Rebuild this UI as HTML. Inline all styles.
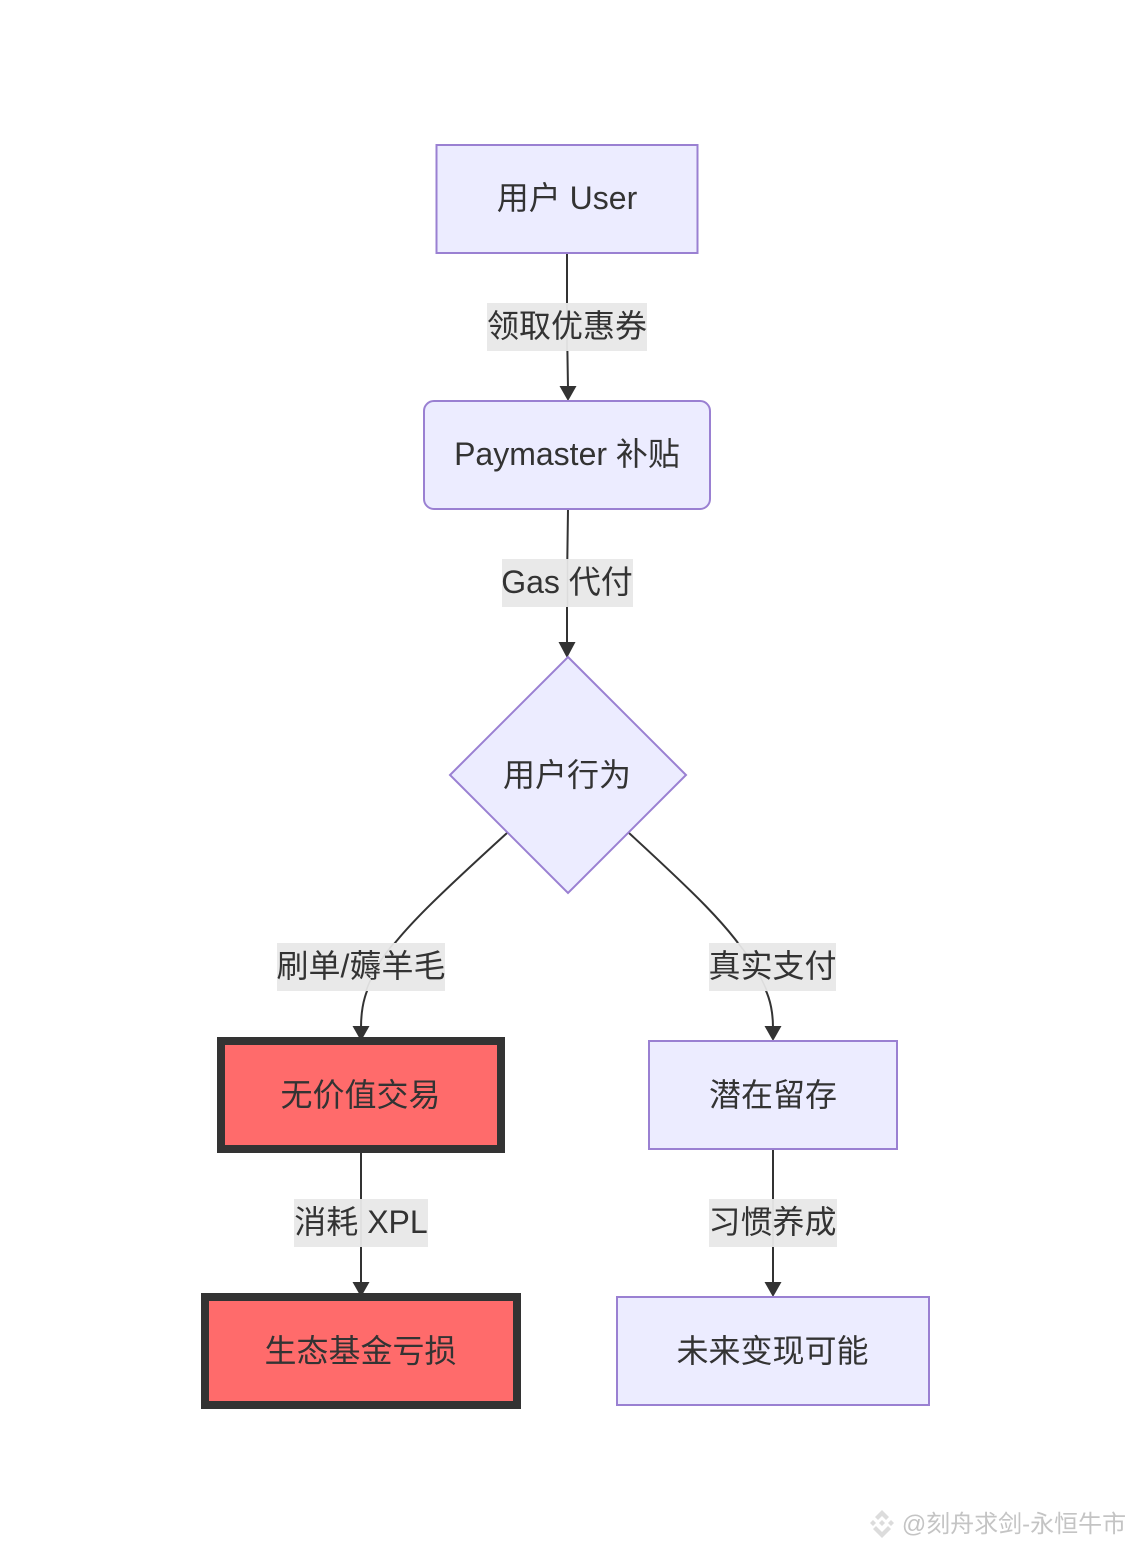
<!DOCTYPE html>
<html><head><meta charset="utf-8"><style>
html,body{margin:0;padding:0;background:#fff}
svg{display:block;filter:blur(0.35px)}
text{font-family:"Liberation Sans","Noto Sans CJK SC",sans-serif;fill:#333;font-size:32px;text-anchor:middle}
.n{fill:#ECECFF;stroke:#9a80d2;stroke-width:2}
.r{fill:#FF6B6B;stroke:#333;stroke-width:8}
.e{fill:none;stroke:#333;stroke-width:2}
.l{fill:#e9e9e9}
.f{fill:none;stroke:#dcdcdc;stroke-width:1.500}
.a{fill:#333}
</style></head><body>
<svg width="1134" height="1550" viewBox="0 0 1134 1550" xmlns="http://www.w3.org/2000/svg">
<rect width="1134" height="1550" fill="#fff"/>
<path class="e" d="M567 253V326L568 388"/>
<path class="e" d="M568 509L567 582V645"/>
<path class="e" d="M507 833C450 885 395 935 380 965C365 990 361 1005 361 1028"/>
<path class="e" d="M629 833C680 880 735 930 752 965C768 990 773 1005 773 1028"/>
<path class="e" d="M361 1150V1284"/>
<path class="e" d="M773 1149V1284"/>
<path class="a" d="M559.500 386H576.500L568 401Z"/>
<path class="a" d="M558.500 642H575.500L567 658Z"/>
<path class="a" d="M352.500 1026H369.500L361 1041Z"/>
<path class="a" d="M764.500 1026H781.500L773 1041Z"/>
<path class="a" d="M352.500 1282H369.500L361 1297Z"/>
<path class="a" d="M764.500 1282H781.500L773 1297Z"/>
<rect class="n" x="436.500" y="145" width="261" height="108"/>
<rect class="n" x="424" y="401" width="286" height="108" rx="10"/>
<path class="n" d="M568 657L686 775L568 893L450 775Z"/>
<rect class="r" x="221" y="1041" width="280" height="108"/>
<rect class="r" x="205" y="1297" width="312" height="108"/>
<rect class="n" x="649" y="1041" width="248" height="108"/>
<rect class="n" x="617" y="1297" width="312" height="108"/>
<rect class="l" x="487" y="303" width="160" height="48"/>
<rect class="l" x="502" y="559" width="131" height="48"/>
<rect class="l" x="277" y="943" width="168" height="48"/>
<rect class="l" x="709" y="943" width="127" height="48"/>
<rect class="l" x="294" y="1199" width="134" height="48"/>
<rect class="l" x="709" y="1199" width="128" height="48"/>
<path class="f" d="M567 303V351"/>
<path class="f" d="M567.500 559V607"/>
<path class="f" d="M394 943C378 962 372 975 366 991"/>
<path class="f" d="M738 943C752 960 760 975 767 991"/>
<path class="f" d="M361 1199V1247"/>
<path class="f" d="M773 1199V1247"/>
<text x="567" y="209">用户 User</text>
<text x="567" y="465">Paymaster 补贴</text>
<text x="567" y="786">用户行为</text>
<text x="360.500" y="1106">无价值交易</text>
<text x="360.500" y="1362">生态基金亏损</text>
<text x="773" y="1106">潜在留存</text>
<text x="772.500" y="1362">未来变现可能</text>
<text x="567" y="337">领取优惠券</text>
<text x="567" y="593">Gas 代付</text>
<text x="361" y="977">刷单/薅羊毛</text>
<text x="772.500" y="977">真实支付</text>
<text x="361" y="1233">消耗 XPL</text>
<text x="772.500" y="1233">习惯养成</text>
<g fill="#dcdcdc">
<path d="M882 1510L889 1517L886 1520L882 1516L878 1520L875 1517Z"/>
<path d="M873 1520L876 1523L873 1526L870 1523Z"/>
<path d="M891 1520L894 1523L891 1526L888 1523Z"/>
<path d="M882 1520L885 1523L882 1526L879 1523Z"/>
<path d="M882 1538L873 1529L876 1526L882 1532L888 1526L891 1529Z"/>
</g>
<text x="1014" y="1532" style="font-size:24px;fill:#c4c4c4">@刻舟求剑-永恒牛市</text>
</svg>
</body></html>
